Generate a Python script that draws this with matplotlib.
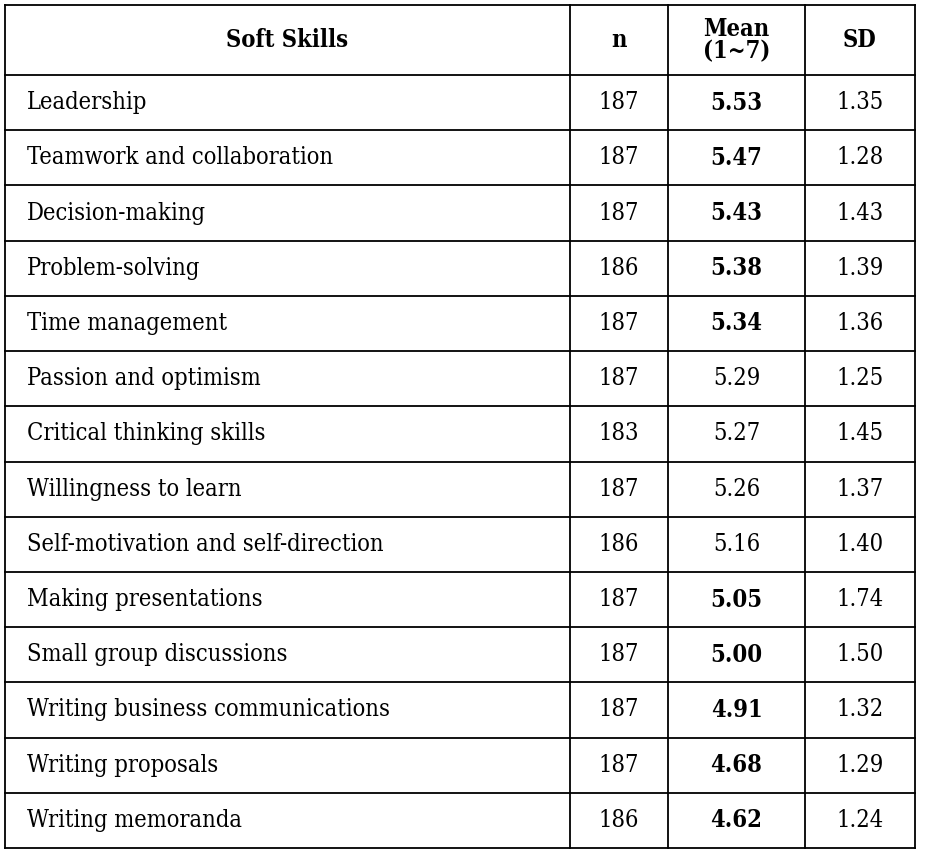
import matplotlib
matplotlib.use("Agg")
import matplotlib.pyplot as plt

skills = ["Leadership","Teamwork and collaboration","Decision-making","Problem-solving",
          "Time management","Passion and optimism","Critical thinking skills","Willingness to learn",
          "Self-motivation and self-direction","Making presentations","Small group discussions",
          "Writing business communications","Writing proposals","Writing memoranda"]
n_vals = [187,187,187,186,187,187,183,187,186,187,187,187,187,186]
means = [5.53,5.47,5.43,5.38,5.34,5.29,5.27,5.26,5.16,5.05,5.00,4.91,4.68,4.62]
sds = [1.35,1.28,1.43,1.39,1.36,1.25,1.45,1.37,1.40,1.74,1.50,1.32,1.29,1.24]
bold_mean = [True]*5 + [False]*4 + [True]*5
headers = ["Soft Skills","n","Mean\n(1~7)","SD"]

W, H = 926, 850
fig = plt.figure(figsize=(W/100, H/100), dpi=100)
ax = fig.add_axes([0,0,1,1])
ax.set_xlim(0, W); ax.set_ylim(H, 0); ax.axis("off")

cols = [5, 570, 668, 805, 915]
top, head_bot, bot = 5, 75, 848
rh = (bot - head_bot) / len(skills)
font = "DejaVu Serif"
kw = dict(family=font, stretch="condensed")
fs = 17
lw = 1.3
for x in cols:
    ax.plot([x, x], [top, bot], color="black", lw=lw)
ys = [top, head_bot] + [head_bot + rh*(i+1) for i in range(len(skills))]
for y in ys:
    ax.plot([cols[0], cols[-1]], [y, y], color="black", lw=lw)

for j, h in enumerate(headers):
    cx = (cols[j] + cols[j+1]) / 2
    ax.text(cx, (top+head_bot)/2, h, ha="center", va="center", fontsize=fs,
            fontweight="bold", linespacing=0.9, **kw)

for i in range(len(skills)):
    cy = head_bot + rh*(i+0.5)
    ax.text(cols[0]+22, cy, skills[i], ha="left", va="center", fontsize=fs, **kw)
    ax.text((cols[1]+cols[2])/2, cy, str(n_vals[i]), ha="center", va="center", fontsize=fs, **kw)
    ax.text((cols[2]+cols[3])/2, cy, f"{means[i]:.2f}", ha="center", va="center", fontsize=fs,
            fontweight="bold" if bold_mean[i] else "normal", **kw)
    ax.text((cols[3]+cols[4])/2, cy, f"{sds[i]:.2f}", ha="center", va="center", fontsize=fs, **kw)

fig.savefig("out.png", dpi=100, facecolor="white")
